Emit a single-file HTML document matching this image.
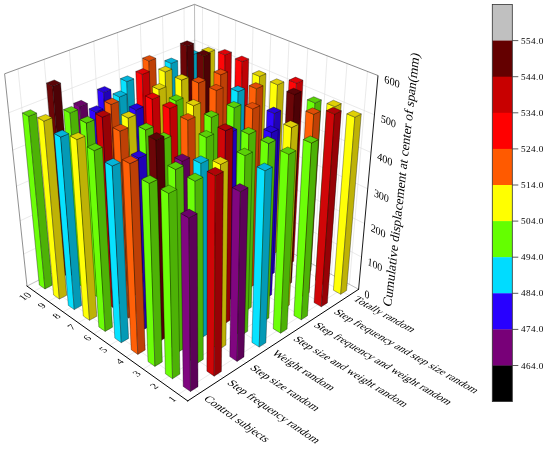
<!DOCTYPE html>
<html><head><meta charset="utf-8"><title>3D bar chart</title>
<style>html,body{margin:0;padding:0;background:#fff}svg{display:block}text{font-family:"Liberation Serif",serif;fill:#000}</style></head>
<body><svg width="550" height="453" viewBox="0 0 550 453">
<rect width="550" height="453" fill="#fff"/>
<line x1="38.7" y1="280.1" x2="18.0" y2="68.9" stroke="#DCDCDC" stroke-width="0.6" />
<line x1="199.8" y1="393.0" x2="38.7" y2="280.1" stroke="#DCDCDC" stroke-width="0.6" />
<line x1="61.7" y1="268.4" x2="44.1" y2="59.3" stroke="#DCDCDC" stroke-width="0.6" />
<line x1="223.4" y1="377.6" x2="61.7" y2="268.4" stroke="#DCDCDC" stroke-width="0.6" />
<line x1="84.0" y1="257.1" x2="69.4" y2="50.1" stroke="#DCDCDC" stroke-width="0.6" />
<line x1="246.1" y1="362.7" x2="84.0" y2="257.1" stroke="#DCDCDC" stroke-width="0.6" />
<line x1="105.6" y1="246.1" x2="93.8" y2="41.2" stroke="#DCDCDC" stroke-width="0.6" />
<line x1="268.1" y1="348.4" x2="105.6" y2="246.1" stroke="#DCDCDC" stroke-width="0.6" />
<line x1="126.6" y1="235.4" x2="117.4" y2="32.5" stroke="#DCDCDC" stroke-width="0.6" />
<line x1="289.4" y1="334.5" x2="126.6" y2="235.4" stroke="#DCDCDC" stroke-width="0.6" />
<line x1="147.0" y1="225.0" x2="140.3" y2="24.2" stroke="#DCDCDC" stroke-width="0.6" />
<line x1="309.9" y1="321.0" x2="147.0" y2="225.0" stroke="#DCDCDC" stroke-width="0.6" />
<line x1="166.8" y1="214.8" x2="162.5" y2="16.1" stroke="#DCDCDC" stroke-width="0.6" />
<line x1="329.9" y1="308.0" x2="166.8" y2="214.8" stroke="#DCDCDC" stroke-width="0.6" />
<line x1="186.1" y1="205.0" x2="184.0" y2="8.2" stroke="#DCDCDC" stroke-width="0.6" />
<line x1="349.1" y1="295.4" x2="186.1" y2="205.0" stroke="#DCDCDC" stroke-width="0.6" />
<line x1="349.4" y1="284.3" x2="367.5" y2="71.5" stroke="#DCDCDC" stroke-width="0.6" />
<line x1="178.5" y1="394.3" x2="349.4" y2="284.3" stroke="#DCDCDC" stroke-width="0.6" />
<line x1="331.4" y1="274.4" x2="347.0" y2="63.5" stroke="#DCDCDC" stroke-width="0.6" />
<line x1="160.6" y1="381.5" x2="331.4" y2="274.4" stroke="#DCDCDC" stroke-width="0.6" />
<line x1="313.9" y1="264.9" x2="327.1" y2="55.8" stroke="#DCDCDC" stroke-width="0.6" />
<line x1="143.1" y1="369.1" x2="313.9" y2="264.9" stroke="#DCDCDC" stroke-width="0.6" />
<line x1="296.8" y1="255.5" x2="307.8" y2="48.3" stroke="#DCDCDC" stroke-width="0.6" />
<line x1="126.2" y1="357.0" x2="296.8" y2="255.5" stroke="#DCDCDC" stroke-width="0.6" />
<line x1="280.2" y1="246.4" x2="289.0" y2="41.1" stroke="#DCDCDC" stroke-width="0.6" />
<line x1="109.7" y1="345.2" x2="280.2" y2="246.4" stroke="#DCDCDC" stroke-width="0.6" />
<line x1="263.9" y1="237.6" x2="270.8" y2="34.0" stroke="#DCDCDC" stroke-width="0.6" />
<line x1="93.7" y1="333.8" x2="263.9" y2="237.6" stroke="#DCDCDC" stroke-width="0.6" />
<line x1="248.1" y1="228.9" x2="253.0" y2="27.1" stroke="#DCDCDC" stroke-width="0.6" />
<line x1="78.2" y1="322.7" x2="248.1" y2="228.9" stroke="#DCDCDC" stroke-width="0.6" />
<line x1="232.6" y1="220.5" x2="235.7" y2="20.4" stroke="#DCDCDC" stroke-width="0.6" />
<line x1="63.0" y1="311.9" x2="232.6" y2="220.5" stroke="#DCDCDC" stroke-width="0.6" />
<line x1="217.5" y1="212.2" x2="218.9" y2="13.9" stroke="#DCDCDC" stroke-width="0.6" />
<line x1="48.3" y1="301.4" x2="217.5" y2="212.2" stroke="#DCDCDC" stroke-width="0.6" />
<line x1="202.8" y1="204.2" x2="202.5" y2="7.5" stroke="#DCDCDC" stroke-width="0.6" />
<line x1="34.0" y1="291.1" x2="202.8" y2="204.2" stroke="#DCDCDC" stroke-width="0.6" />
<line x1="23.6" y1="254.1" x2="195.4" y2="170.3" stroke="#DCDCDC" stroke-width="0.6" />
<line x1="195.4" y1="170.3" x2="361.5" y2="257.0" stroke="#DCDCDC" stroke-width="0.6" />
<line x1="20.1" y1="220.8" x2="195.2" y2="139.4" stroke="#DCDCDC" stroke-width="0.6" />
<line x1="195.2" y1="139.4" x2="364.5" y2="223.6" stroke="#DCDCDC" stroke-width="0.6" />
<line x1="16.4" y1="186.2" x2="195.1" y2="107.4" stroke="#DCDCDC" stroke-width="0.6" />
<line x1="195.1" y1="107.4" x2="367.7" y2="188.8" stroke="#DCDCDC" stroke-width="0.6" />
<line x1="12.6" y1="150.2" x2="194.9" y2="74.3" stroke="#DCDCDC" stroke-width="0.6" />
<line x1="194.9" y1="74.3" x2="371.0" y2="152.5" stroke="#DCDCDC" stroke-width="0.6" />
<line x1="8.7" y1="112.8" x2="194.7" y2="40.0" stroke="#DCDCDC" stroke-width="0.6" />
<line x1="194.7" y1="40.0" x2="374.4" y2="114.8" stroke="#DCDCDC" stroke-width="0.6" />
<line x1="4.6" y1="73.8" x2="194.5" y2="4.4" stroke="#707070" stroke-width="0.8" />
<line x1="194.5" y1="4.4" x2="378.0" y2="75.5" stroke="#707070" stroke-width="0.8" />
<line x1="194.5" y1="4.4" x2="195.6" y2="200.2" stroke="#A0A0A0" stroke-width="0.7" />
<line x1="27.0" y1="286.1" x2="4.6" y2="73.8" stroke="#606060" stroke-width="0.7" />
<line x1="27.0" y1="286.1" x2="195.6" y2="200.2" stroke="#A0A0A0" stroke-width="0.7" />
<line x1="358.6" y1="289.3" x2="195.6" y2="200.2" stroke="#A0A0A0" stroke-width="0.7" />
<line x1="358.6" y1="289.3" x2="378.0" y2="75.5" stroke="#000" stroke-width="0.9" />
<polygon points="187.5,208.9 193.3,212.2 192.2,54.9 185.9,52.2" fill="#08E2FF" stroke="#000" stroke-opacity="0.6" stroke-width="0.55" stroke-linejoin="round"/>
<polygon points="193.3,212.2 199.2,209.1 198.7,52.3 192.2,54.9" fill="#049AB6" stroke="#000" stroke-opacity="0.6" stroke-width="0.55" stroke-linejoin="round"/>
<polygon points="192.2,54.9 198.7,52.3 192.3,49.7 185.9,52.2" fill="#04B4D9" stroke="#000" stroke-opacity="0.6" stroke-width="0.55" stroke-linejoin="round"/>
<polygon points="168.1,218.9 173.9,222.2 171.1,63.4 164.8,60.6" fill="#08E2FF" stroke="#000" stroke-opacity="0.6" stroke-width="0.55" stroke-linejoin="round"/>
<polygon points="173.9,222.2 180.0,219.1 177.7,60.8 171.1,63.4" fill="#049AB6" stroke="#000" stroke-opacity="0.6" stroke-width="0.55" stroke-linejoin="round"/>
<polygon points="171.1,63.4 177.7,60.8 171.4,58.0 164.8,60.6" fill="#04B4D9" stroke="#000" stroke-opacity="0.6" stroke-width="0.55" stroke-linejoin="round"/>
<polygon points="148.2,229.1 154.0,232.5 148.9,61.0 142.6,58.1" fill="#FF6008" stroke="#000" stroke-opacity="0.6" stroke-width="0.55" stroke-linejoin="round"/>
<polygon points="154.0,232.5 160.2,229.3 155.8,58.3 148.9,61.0" fill="#BE4006" stroke="#000" stroke-opacity="0.6" stroke-width="0.55" stroke-linejoin="round"/>
<polygon points="148.9,61.0 155.8,58.3 149.5,55.4 142.6,58.1" fill="#DF4C08" stroke="#000" stroke-opacity="0.6" stroke-width="0.55" stroke-linejoin="round"/>
<polygon points="127.7,239.6 133.5,243.2 126.8,81.6 120.5,78.6" fill="#08E2FF" stroke="#000" stroke-opacity="0.6" stroke-width="0.55" stroke-linejoin="round"/>
<polygon points="133.5,243.2 139.9,239.8 133.8,78.8 126.8,81.6" fill="#049AB6" stroke="#000" stroke-opacity="0.6" stroke-width="0.55" stroke-linejoin="round"/>
<polygon points="126.8,81.6 133.8,78.8 127.5,75.8 120.5,78.6" fill="#04B4D9" stroke="#000" stroke-opacity="0.6" stroke-width="0.55" stroke-linejoin="round"/>
<polygon points="106.6,250.5 112.3,254.1 103.6,92.4 97.4,89.3" fill="#3006FF" stroke="#000" stroke-opacity="0.6" stroke-width="0.55" stroke-linejoin="round"/>
<polygon points="112.3,254.1 119.0,250.7 110.9,89.5 103.6,92.4" fill="#2102B6" stroke="#000" stroke-opacity="0.6" stroke-width="0.55" stroke-linejoin="round"/>
<polygon points="103.6,92.4 110.9,89.5 104.6,86.4 97.4,89.3" fill="#2604D9" stroke="#000" stroke-opacity="0.6" stroke-width="0.55" stroke-linejoin="round"/>
<polygon points="84.8,261.6 90.6,265.4 79.9,106.5 73.7,103.3" fill="#800680" stroke="#000" stroke-opacity="0.6" stroke-width="0.55" stroke-linejoin="round"/>
<polygon points="90.6,265.4 97.4,261.8 87.4,103.5 79.9,106.5" fill="#5C0259" stroke="#000" stroke-opacity="0.6" stroke-width="0.55" stroke-linejoin="round"/>
<polygon points="79.9,106.5 87.4,103.5 81.2,100.3 73.7,103.3" fill="#6B046A" stroke="#000" stroke-opacity="0.6" stroke-width="0.55" stroke-linejoin="round"/>
<polygon points="62.4,273.1 68.1,277.0 52.7,86.2 46.5,83.0" fill="#6C0608" stroke="#000" stroke-opacity="0.6" stroke-width="0.55" stroke-linejoin="round"/>
<polygon points="68.1,277.0 75.1,273.3 60.6,83.1 52.7,86.2" fill="#4D0206" stroke="#000" stroke-opacity="0.6" stroke-width="0.55" stroke-linejoin="round"/>
<polygon points="52.7,86.2 60.6,83.1 54.3,79.9 46.5,83.0" fill="#5A0408" stroke="#000" stroke-opacity="0.6" stroke-width="0.55" stroke-linejoin="round"/>
<polygon points="39.3,285.0 45.0,289.0 28.6,116.3 22.4,112.9" fill="#6CFF08" stroke="#000" stroke-opacity="0.6" stroke-width="0.55" stroke-linejoin="round"/>
<polygon points="45.0,289.0 52.2,285.2 36.6,113.1 28.6,116.3" fill="#4DB206" stroke="#000" stroke-opacity="0.6" stroke-width="0.55" stroke-linejoin="round"/>
<polygon points="28.6,116.3 36.6,113.1 30.5,109.7 22.4,112.9" fill="#5AD008" stroke="#000" stroke-opacity="0.6" stroke-width="0.55" stroke-linejoin="round"/>
<polygon points="202.2,217.1 208.1,220.4 208.4,52.6 201.8,49.8" fill="#FFFF08" stroke="#000" stroke-opacity="0.6" stroke-width="0.55" stroke-linejoin="round"/>
<polygon points="208.1,220.4 214.0,217.3 214.8,49.9 208.4,52.6" fill="#BEB206" stroke="#000" stroke-opacity="0.6" stroke-width="0.55" stroke-linejoin="round"/>
<polygon points="208.4,52.6 214.8,49.9 208.3,47.2 201.8,49.8" fill="#DFD008" stroke="#000" stroke-opacity="0.6" stroke-width="0.55" stroke-linejoin="round"/>
<polygon points="182.8,227.3 188.7,230.7 186.9,46.2 180.4,43.4" fill="#6C0608" stroke="#000" stroke-opacity="0.6" stroke-width="0.55" stroke-linejoin="round"/>
<polygon points="188.7,230.7 194.8,227.5 193.7,43.5 186.9,46.2" fill="#4D0206" stroke="#000" stroke-opacity="0.6" stroke-width="0.55" stroke-linejoin="round"/>
<polygon points="186.9,46.2 193.7,43.5 187.1,40.8 180.4,43.4" fill="#5A0408" stroke="#000" stroke-opacity="0.6" stroke-width="0.55" stroke-linejoin="round"/>
<polygon points="162.8,237.7 168.7,241.3 165.2,71.9 158.7,69.0" fill="#FFFF08" stroke="#000" stroke-opacity="0.6" stroke-width="0.55" stroke-linejoin="round"/>
<polygon points="168.7,241.3 175.0,238.0 172.0,69.1 165.2,71.9" fill="#BEB206" stroke="#000" stroke-opacity="0.6" stroke-width="0.55" stroke-linejoin="round"/>
<polygon points="165.2,71.9 172.0,69.1 165.5,66.2 158.7,69.0" fill="#DFD008" stroke="#000" stroke-opacity="0.6" stroke-width="0.55" stroke-linejoin="round"/>
<polygon points="142.2,248.5 148.2,252.2 142.3,74.4 135.8,71.4" fill="#FF0608" stroke="#000" stroke-opacity="0.6" stroke-width="0.55" stroke-linejoin="round"/>
<polygon points="148.2,252.2 154.6,248.7 149.4,71.5 142.3,74.4" fill="#BE0206" stroke="#000" stroke-opacity="0.6" stroke-width="0.55" stroke-linejoin="round"/>
<polygon points="142.3,74.4 149.4,71.5 142.9,68.6 135.8,71.4" fill="#DF0408" stroke="#000" stroke-opacity="0.6" stroke-width="0.55" stroke-linejoin="round"/>
<polygon points="121.1,259.6 127.0,263.4 119.4,97.0 112.9,93.8" fill="#08E2FF" stroke="#000" stroke-opacity="0.6" stroke-width="0.55" stroke-linejoin="round"/>
<polygon points="127.0,263.4 133.6,259.9 126.7,94.0 119.4,97.0" fill="#049AB6" stroke="#000" stroke-opacity="0.6" stroke-width="0.55" stroke-linejoin="round"/>
<polygon points="119.4,97.0 126.7,94.0 120.2,90.8 112.9,93.8" fill="#04B4D9" stroke="#000" stroke-opacity="0.6" stroke-width="0.55" stroke-linejoin="round"/>
<polygon points="99.3,271.1 105.1,274.9 95.6,112.1 89.2,108.8" fill="#3006FF" stroke="#000" stroke-opacity="0.6" stroke-width="0.55" stroke-linejoin="round"/>
<polygon points="105.1,274.9 112.0,271.3 103.1,109.0 95.6,112.1" fill="#2102B6" stroke="#000" stroke-opacity="0.6" stroke-width="0.55" stroke-linejoin="round"/>
<polygon points="95.6,112.1 103.1,109.0 96.7,105.7 89.2,108.8" fill="#2604D9" stroke="#000" stroke-opacity="0.6" stroke-width="0.55" stroke-linejoin="round"/>
<polygon points="76.8,282.9 82.6,286.8 70.0,112.9 63.6,109.5" fill="#6CFF08" stroke="#000" stroke-opacity="0.6" stroke-width="0.55" stroke-linejoin="round"/>
<polygon points="82.6,286.8 89.7,283.1 77.8,109.7 70.0,112.9" fill="#4DB206" stroke="#000" stroke-opacity="0.6" stroke-width="0.55" stroke-linejoin="round"/>
<polygon points="70.0,112.9 77.8,109.7 71.5,106.4 63.6,109.5" fill="#5AD008" stroke="#000" stroke-opacity="0.6" stroke-width="0.55" stroke-linejoin="round"/>
<polygon points="53.6,295.0 59.4,299.1 43.9,121.1 37.6,117.6" fill="#FFFF08" stroke="#000" stroke-opacity="0.6" stroke-width="0.55" stroke-linejoin="round"/>
<polygon points="59.4,299.1 66.7,295.3 52.1,117.8 43.9,121.1" fill="#BEB206" stroke="#000" stroke-opacity="0.6" stroke-width="0.55" stroke-linejoin="round"/>
<polygon points="43.9,121.1 52.1,117.8 45.7,114.4 37.6,117.6" fill="#DFD008" stroke="#000" stroke-opacity="0.6" stroke-width="0.55" stroke-linejoin="round"/>
<polygon points="217.2,225.5 223.3,228.9 225.0,54.8 218.3,52.0" fill="#FF0608" stroke="#000" stroke-opacity="0.6" stroke-width="0.55" stroke-linejoin="round"/>
<polygon points="223.3,228.9 229.2,225.7 231.5,52.2 225.0,54.8" fill="#BE0206" stroke="#000" stroke-opacity="0.6" stroke-width="0.55" stroke-linejoin="round"/>
<polygon points="225.0,54.8 231.5,52.2 224.8,49.4 218.3,52.0" fill="#DF0408" stroke="#000" stroke-opacity="0.6" stroke-width="0.55" stroke-linejoin="round"/>
<polygon points="197.7,235.9 203.8,239.4 203.7,55.9 196.9,53.0" fill="#6C0608" stroke="#000" stroke-opacity="0.6" stroke-width="0.55" stroke-linejoin="round"/>
<polygon points="203.8,239.4 209.9,236.1 210.4,53.1 203.7,55.9" fill="#4D0206" stroke="#000" stroke-opacity="0.6" stroke-width="0.55" stroke-linejoin="round"/>
<polygon points="203.7,55.9 210.4,53.1 203.7,50.3 196.9,53.0" fill="#5A0408" stroke="#000" stroke-opacity="0.6" stroke-width="0.55" stroke-linejoin="round"/>
<polygon points="177.8,246.6 183.8,250.2 181.7,80.1 175.0,77.1" fill="#FFFF08" stroke="#000" stroke-opacity="0.6" stroke-width="0.55" stroke-linejoin="round"/>
<polygon points="183.8,250.2 190.1,246.8 188.6,77.3 181.7,80.1" fill="#BEB206" stroke="#000" stroke-opacity="0.6" stroke-width="0.55" stroke-linejoin="round"/>
<polygon points="181.7,80.1 188.6,77.3 181.9,74.3 175.0,77.1" fill="#DFD008" stroke="#000" stroke-opacity="0.6" stroke-width="0.55" stroke-linejoin="round"/>
<polygon points="157.2,257.7 163.2,261.4 159.0,89.6 152.4,86.5" fill="#FFFF08" stroke="#000" stroke-opacity="0.6" stroke-width="0.55" stroke-linejoin="round"/>
<polygon points="163.2,261.4 169.7,257.9 166.1,86.6 159.0,89.6" fill="#BEB206" stroke="#000" stroke-opacity="0.6" stroke-width="0.55" stroke-linejoin="round"/>
<polygon points="159.0,89.6 166.1,86.6 159.5,83.5 152.4,86.5" fill="#DFD008" stroke="#000" stroke-opacity="0.6" stroke-width="0.55" stroke-linejoin="round"/>
<polygon points="136.0,269.0 142.0,272.9 136.0,109.9 129.4,106.7" fill="#3006FF" stroke="#000" stroke-opacity="0.6" stroke-width="0.55" stroke-linejoin="round"/>
<polygon points="142.0,272.9 148.7,269.3 143.3,106.8 136.0,109.9" fill="#2102B6" stroke="#000" stroke-opacity="0.6" stroke-width="0.55" stroke-linejoin="round"/>
<polygon points="136.0,109.9 143.3,106.8 136.7,103.6 129.4,106.7" fill="#2604D9" stroke="#000" stroke-opacity="0.6" stroke-width="0.55" stroke-linejoin="round"/>
<polygon points="114.1,280.8 120.1,284.7 111.0,104.5 104.4,101.2" fill="#FF6008" stroke="#000" stroke-opacity="0.6" stroke-width="0.55" stroke-linejoin="round"/>
<polygon points="120.1,284.7 127.0,281.0 118.7,101.4 111.0,104.5" fill="#BE4006" stroke="#000" stroke-opacity="0.6" stroke-width="0.55" stroke-linejoin="round"/>
<polygon points="111.0,104.5 118.7,101.4 112.0,98.1 104.4,101.2" fill="#DF4C08" stroke="#000" stroke-opacity="0.6" stroke-width="0.55" stroke-linejoin="round"/>
<polygon points="91.5,292.9 97.5,297.0 86.4,123.1 79.8,119.6" fill="#6CFF08" stroke="#000" stroke-opacity="0.6" stroke-width="0.55" stroke-linejoin="round"/>
<polygon points="97.5,297.0 104.6,293.1 94.3,119.8 86.4,123.1" fill="#4DB206" stroke="#000" stroke-opacity="0.6" stroke-width="0.55" stroke-linejoin="round"/>
<polygon points="86.4,123.1 94.3,119.8 87.7,116.3 79.8,119.6" fill="#5AD008" stroke="#000" stroke-opacity="0.6" stroke-width="0.55" stroke-linejoin="round"/>
<polygon points="68.3,305.4 74.3,309.6 60.7,137.1 54.2,133.5" fill="#08E2FF" stroke="#000" stroke-opacity="0.6" stroke-width="0.55" stroke-linejoin="round"/>
<polygon points="74.3,309.6 81.6,305.6 68.8,133.7 60.7,137.1" fill="#049AB6" stroke="#000" stroke-opacity="0.6" stroke-width="0.55" stroke-linejoin="round"/>
<polygon points="60.7,137.1 68.8,133.7 62.3,130.1 54.2,133.5" fill="#04B4D9" stroke="#000" stroke-opacity="0.6" stroke-width="0.55" stroke-linejoin="round"/>
<polygon points="232.5,234.0 238.8,237.5 242.2,61.6 235.3,58.8" fill="#FF0608" stroke="#000" stroke-opacity="0.6" stroke-width="0.55" stroke-linejoin="round"/>
<polygon points="238.8,237.5 244.7,234.2 248.7,58.9 242.2,61.6" fill="#BE0206" stroke="#000" stroke-opacity="0.6" stroke-width="0.55" stroke-linejoin="round"/>
<polygon points="242.2,61.6 248.7,58.9 241.8,56.0 235.3,58.8" fill="#DF0408" stroke="#000" stroke-opacity="0.6" stroke-width="0.55" stroke-linejoin="round"/>
<polygon points="213.1,244.7 219.4,248.3 220.8,74.8 213.9,71.8" fill="#FF6008" stroke="#000" stroke-opacity="0.6" stroke-width="0.55" stroke-linejoin="round"/>
<polygon points="219.4,248.3 225.4,244.9 227.5,71.9 220.8,74.8" fill="#BE4006" stroke="#000" stroke-opacity="0.6" stroke-width="0.55" stroke-linejoin="round"/>
<polygon points="220.8,74.8 227.5,71.9 220.6,68.9 213.9,71.8" fill="#DF4C08" stroke="#000" stroke-opacity="0.6" stroke-width="0.55" stroke-linejoin="round"/>
<polygon points="193.1,255.7 199.3,259.4 198.7,83.0 191.8,79.9" fill="#FF6008" stroke="#000" stroke-opacity="0.6" stroke-width="0.55" stroke-linejoin="round"/>
<polygon points="199.3,259.4 205.6,255.9 205.6,80.1 198.7,83.0" fill="#BE4006" stroke="#000" stroke-opacity="0.6" stroke-width="0.55" stroke-linejoin="round"/>
<polygon points="198.7,83.0 205.6,80.1 198.7,77.0 191.8,79.9" fill="#DF4C08" stroke="#000" stroke-opacity="0.6" stroke-width="0.55" stroke-linejoin="round"/>
<polygon points="172.5,267.0 178.7,270.8 176.0,101.0 169.2,97.8" fill="#6CFF08" stroke="#000" stroke-opacity="0.6" stroke-width="0.55" stroke-linejoin="round"/>
<polygon points="178.7,270.8 185.2,267.3 183.2,97.9 176.0,101.0" fill="#4DB206" stroke="#000" stroke-opacity="0.6" stroke-width="0.55" stroke-linejoin="round"/>
<polygon points="176.0,101.0 183.2,97.9 176.3,94.7 169.2,97.8" fill="#5AD008" stroke="#000" stroke-opacity="0.6" stroke-width="0.55" stroke-linejoin="round"/>
<polygon points="151.2,278.7 157.4,282.6 152.2,99.2 145.4,95.9" fill="#FF0608" stroke="#000" stroke-opacity="0.6" stroke-width="0.55" stroke-linejoin="round"/>
<polygon points="157.4,282.6 164.1,279.0 159.7,96.1 152.2,99.2" fill="#BE0206" stroke="#000" stroke-opacity="0.6" stroke-width="0.55" stroke-linejoin="round"/>
<polygon points="152.2,99.2 159.7,96.1 152.8,92.8 145.4,95.9" fill="#DF0408" stroke="#000" stroke-opacity="0.6" stroke-width="0.55" stroke-linejoin="round"/>
<polygon points="129.3,290.8 135.5,294.8 128.2,118.1 121.4,114.6" fill="#FFFF08" stroke="#000" stroke-opacity="0.6" stroke-width="0.55" stroke-linejoin="round"/>
<polygon points="135.5,294.8 142.4,291.0 135.8,114.8 128.2,118.1" fill="#BEB206" stroke="#000" stroke-opacity="0.6" stroke-width="0.55" stroke-linejoin="round"/>
<polygon points="128.2,118.1 135.8,114.8 129.0,111.4 121.4,114.6" fill="#DFD008" stroke="#000" stroke-opacity="0.6" stroke-width="0.55" stroke-linejoin="round"/>
<polygon points="106.7,303.2 112.9,307.4 102.3,117.2 95.5,113.7" fill="#D00608" stroke="#000" stroke-opacity="0.6" stroke-width="0.55" stroke-linejoin="round"/>
<polygon points="112.9,307.4 120.0,303.4 110.3,113.9 102.3,117.2" fill="#960206" stroke="#000" stroke-opacity="0.6" stroke-width="0.55" stroke-linejoin="round"/>
<polygon points="102.3,117.2 110.3,113.9 103.5,110.4 95.5,113.7" fill="#B00408" stroke="#000" stroke-opacity="0.6" stroke-width="0.55" stroke-linejoin="round"/>
<polygon points="83.3,316.0 89.5,320.3 76.9,139.6 70.1,135.9" fill="#FFFF08" stroke="#000" stroke-opacity="0.6" stroke-width="0.55" stroke-linejoin="round"/>
<polygon points="89.5,320.3 96.8,316.3 85.0,136.1 76.9,139.6" fill="#BEB206" stroke="#000" stroke-opacity="0.6" stroke-width="0.55" stroke-linejoin="round"/>
<polygon points="76.9,139.6 85.0,136.1 78.3,132.5 70.1,135.9" fill="#DFD008" stroke="#000" stroke-opacity="0.6" stroke-width="0.55" stroke-linejoin="round"/>
<polygon points="248.3,242.8 254.7,246.4 259.6,76.4 252.5,73.4" fill="#FFFF08" stroke="#000" stroke-opacity="0.6" stroke-width="0.55" stroke-linejoin="round"/>
<polygon points="254.7,246.4 260.6,243.0 266.0,73.6 259.6,76.4" fill="#BEB206" stroke="#000" stroke-opacity="0.6" stroke-width="0.55" stroke-linejoin="round"/>
<polygon points="259.6,76.4 266.0,73.6 259.0,70.6 252.5,73.4" fill="#DFD008" stroke="#000" stroke-opacity="0.6" stroke-width="0.55" stroke-linejoin="round"/>
<polygon points="228.9,253.8 235.3,257.4 238.1,91.7 231.1,88.6" fill="#08E2FF" stroke="#000" stroke-opacity="0.6" stroke-width="0.55" stroke-linejoin="round"/>
<polygon points="235.3,257.4 241.4,254.0 244.8,88.8 238.1,91.7" fill="#049AB6" stroke="#000" stroke-opacity="0.6" stroke-width="0.55" stroke-linejoin="round"/>
<polygon points="238.1,91.7 244.8,88.8 237.8,85.7 231.1,88.6" fill="#04B4D9" stroke="#000" stroke-opacity="0.6" stroke-width="0.55" stroke-linejoin="round"/>
<polygon points="208.8,265.0 215.2,268.8 216.3,90.5 209.2,87.3" fill="#FF6008" stroke="#000" stroke-opacity="0.6" stroke-width="0.55" stroke-linejoin="round"/>
<polygon points="215.2,268.8 221.5,265.3 223.2,87.5 216.3,90.5" fill="#BE4006" stroke="#000" stroke-opacity="0.6" stroke-width="0.55" stroke-linejoin="round"/>
<polygon points="216.3,90.5 223.2,87.5 216.1,84.3 209.2,87.3" fill="#DF4C08" stroke="#000" stroke-opacity="0.6" stroke-width="0.55" stroke-linejoin="round"/>
<polygon points="188.2,276.6 194.6,280.6 193.5,105.8 186.4,102.5" fill="#FFFF08" stroke="#000" stroke-opacity="0.6" stroke-width="0.55" stroke-linejoin="round"/>
<polygon points="194.6,280.6 201.0,276.9 200.6,102.7 193.5,105.8" fill="#BEB206" stroke="#000" stroke-opacity="0.6" stroke-width="0.55" stroke-linejoin="round"/>
<polygon points="193.5,105.8 200.6,102.7 193.5,99.4 186.4,102.5" fill="#DFD008" stroke="#000" stroke-opacity="0.6" stroke-width="0.55" stroke-linejoin="round"/>
<polygon points="166.9,288.6 173.3,292.7 169.8,108.4 162.7,105.0" fill="#FF0608" stroke="#000" stroke-opacity="0.6" stroke-width="0.55" stroke-linejoin="round"/>
<polygon points="173.3,292.7 179.9,288.9 177.2,105.2 169.8,108.4" fill="#BE0206" stroke="#000" stroke-opacity="0.6" stroke-width="0.55" stroke-linejoin="round"/>
<polygon points="169.8,108.4 177.2,105.2 170.1,101.8 162.7,105.0" fill="#DF0408" stroke="#000" stroke-opacity="0.6" stroke-width="0.55" stroke-linejoin="round"/>
<polygon points="144.9,301.0 151.3,305.2 145.6,130.0 138.6,126.4" fill="#6CFF08" stroke="#000" stroke-opacity="0.6" stroke-width="0.55" stroke-linejoin="round"/>
<polygon points="151.3,305.2 158.2,301.2 153.3,126.6 145.6,130.0" fill="#4DB206" stroke="#000" stroke-opacity="0.6" stroke-width="0.55" stroke-linejoin="round"/>
<polygon points="145.6,130.0 153.3,126.6 146.3,123.1 138.6,126.4" fill="#5AD008" stroke="#000" stroke-opacity="0.6" stroke-width="0.55" stroke-linejoin="round"/>
<polygon points="122.3,313.7 128.6,318.1 120.0,131.2 112.9,127.6" fill="#FF6008" stroke="#000" stroke-opacity="0.6" stroke-width="0.55" stroke-linejoin="round"/>
<polygon points="128.6,318.1 135.7,314.0 127.9,127.8 120.0,131.2" fill="#BE4006" stroke="#000" stroke-opacity="0.6" stroke-width="0.55" stroke-linejoin="round"/>
<polygon points="120.0,131.2 127.9,127.8 120.9,124.2 112.9,127.6" fill="#DF4C08" stroke="#000" stroke-opacity="0.6" stroke-width="0.55" stroke-linejoin="round"/>
<polygon points="98.8,326.9 105.2,331.4 94.2,150.7 87.2,146.9" fill="#6CFF08" stroke="#000" stroke-opacity="0.6" stroke-width="0.55" stroke-linejoin="round"/>
<polygon points="105.2,331.4 112.5,327.2 102.4,147.1 94.2,150.7" fill="#4DB206" stroke="#000" stroke-opacity="0.6" stroke-width="0.55" stroke-linejoin="round"/>
<polygon points="94.2,150.7 102.4,147.1 95.4,143.3 87.2,146.9" fill="#5AD008" stroke="#000" stroke-opacity="0.6" stroke-width="0.55" stroke-linejoin="round"/>
<polygon points="264.5,251.8 271.0,255.5 277.5,84.8 270.3,81.7" fill="#FFFF08" stroke="#000" stroke-opacity="0.6" stroke-width="0.55" stroke-linejoin="round"/>
<polygon points="271.0,255.5 276.9,252.0 284.0,81.9 277.5,84.8" fill="#BEB206" stroke="#000" stroke-opacity="0.6" stroke-width="0.55" stroke-linejoin="round"/>
<polygon points="277.5,84.8 284.0,81.9 276.7,78.8 270.3,81.7" fill="#DFD008" stroke="#000" stroke-opacity="0.6" stroke-width="0.55" stroke-linejoin="round"/>
<polygon points="245.0,263.0 251.6,266.8 256.4,88.7 249.1,85.6" fill="#FF6008" stroke="#000" stroke-opacity="0.6" stroke-width="0.55" stroke-linejoin="round"/>
<polygon points="251.6,266.8 257.7,263.3 263.1,85.7 256.4,88.7" fill="#BE4006" stroke="#000" stroke-opacity="0.6" stroke-width="0.55" stroke-linejoin="round"/>
<polygon points="256.4,88.7 263.1,85.7 255.8,82.6 249.1,85.6" fill="#DF4C08" stroke="#000" stroke-opacity="0.6" stroke-width="0.55" stroke-linejoin="round"/>
<polygon points="225.0,274.6 231.5,278.5 234.2,107.8 226.9,104.5" fill="#6CFF08" stroke="#000" stroke-opacity="0.6" stroke-width="0.55" stroke-linejoin="round"/>
<polygon points="231.5,278.5 237.8,274.8 241.1,104.6 234.2,107.8" fill="#4DB206" stroke="#000" stroke-opacity="0.6" stroke-width="0.55" stroke-linejoin="round"/>
<polygon points="234.2,107.8 241.1,104.6 233.8,101.4 226.9,104.5" fill="#5AD008" stroke="#000" stroke-opacity="0.6" stroke-width="0.55" stroke-linejoin="round"/>
<polygon points="204.3,286.5 210.9,290.5 211.4,117.4 204.2,113.9" fill="#6CFF08" stroke="#000" stroke-opacity="0.6" stroke-width="0.55" stroke-linejoin="round"/>
<polygon points="210.9,290.5 217.3,286.8 218.6,114.1 211.4,117.4" fill="#4DB206" stroke="#000" stroke-opacity="0.6" stroke-width="0.55" stroke-linejoin="round"/>
<polygon points="211.4,117.4 218.6,114.1 211.3,110.7 204.2,113.9" fill="#5AD008" stroke="#000" stroke-opacity="0.6" stroke-width="0.55" stroke-linejoin="round"/>
<polygon points="183.0,298.8 189.5,303.0 187.8,120.2 180.5,116.7" fill="#FF6008" stroke="#000" stroke-opacity="0.6" stroke-width="0.55" stroke-linejoin="round"/>
<polygon points="189.5,303.0 196.2,299.1 195.2,116.9 187.8,120.2" fill="#BE4006" stroke="#000" stroke-opacity="0.6" stroke-width="0.55" stroke-linejoin="round"/>
<polygon points="187.8,120.2 195.2,116.9 188.0,113.4 180.5,116.7" fill="#DF4C08" stroke="#000" stroke-opacity="0.6" stroke-width="0.55" stroke-linejoin="round"/>
<polygon points="161.0,311.5 167.5,315.8 163.5,139.5 156.3,135.8" fill="#6CFF08" stroke="#000" stroke-opacity="0.6" stroke-width="0.55" stroke-linejoin="round"/>
<polygon points="167.5,315.8 174.4,311.8 171.1,136.0 163.5,139.5" fill="#4DB206" stroke="#000" stroke-opacity="0.6" stroke-width="0.55" stroke-linejoin="round"/>
<polygon points="163.5,139.5 171.1,136.0 163.9,132.4 156.3,135.8" fill="#5AD008" stroke="#000" stroke-opacity="0.6" stroke-width="0.55" stroke-linejoin="round"/>
<polygon points="138.2,324.6 144.8,329.0 138.5,158.1 131.3,154.3" fill="#3006FF" stroke="#000" stroke-opacity="0.6" stroke-width="0.55" stroke-linejoin="round"/>
<polygon points="144.8,329.0 151.9,324.9 146.4,154.5 138.5,158.1" fill="#2102B6" stroke="#000" stroke-opacity="0.6" stroke-width="0.55" stroke-linejoin="round"/>
<polygon points="138.5,158.1 146.4,154.5 139.2,150.7 131.3,154.3" fill="#2604D9" stroke="#000" stroke-opacity="0.6" stroke-width="0.55" stroke-linejoin="round"/>
<polygon points="114.8,338.1 121.3,342.7 112.2,166.1 105.0,162.1" fill="#08E2FF" stroke="#000" stroke-opacity="0.6" stroke-width="0.55" stroke-linejoin="round"/>
<polygon points="121.3,342.7 128.6,338.4 120.4,162.4 112.2,166.1" fill="#049AB6" stroke="#000" stroke-opacity="0.6" stroke-width="0.55" stroke-linejoin="round"/>
<polygon points="112.2,166.1 120.4,162.4 113.2,158.4 105.0,162.1" fill="#04B4D9" stroke="#000" stroke-opacity="0.6" stroke-width="0.55" stroke-linejoin="round"/>
<polygon points="281.0,261.0 287.8,264.8 296.5,83.2 289.0,80.1" fill="#FF0608" stroke="#000" stroke-opacity="0.6" stroke-width="0.55" stroke-linejoin="round"/>
<polygon points="287.8,264.8 293.7,261.3 303.0,80.2 296.5,83.2" fill="#BE0206" stroke="#000" stroke-opacity="0.6" stroke-width="0.55" stroke-linejoin="round"/>
<polygon points="296.5,83.2 303.0,80.2 295.5,77.1 289.0,80.1" fill="#DF0408" stroke="#000" stroke-opacity="0.6" stroke-width="0.55" stroke-linejoin="round"/>
<polygon points="261.6,272.6 268.3,276.4 274.4,113.5 266.9,110.2" fill="#3006FF" stroke="#000" stroke-opacity="0.6" stroke-width="0.55" stroke-linejoin="round"/>
<polygon points="268.3,276.4 274.4,272.8 281.0,110.4 274.4,113.5" fill="#2102B6" stroke="#000" stroke-opacity="0.6" stroke-width="0.55" stroke-linejoin="round"/>
<polygon points="274.4,113.5 281.0,110.4 273.6,107.1 266.9,110.2" fill="#2604D9" stroke="#000" stroke-opacity="0.6" stroke-width="0.55" stroke-linejoin="round"/>
<polygon points="241.5,284.4 248.3,288.4 252.8,108.9 245.3,105.5" fill="#FF6008" stroke="#000" stroke-opacity="0.6" stroke-width="0.55" stroke-linejoin="round"/>
<polygon points="248.3,288.4 254.6,284.7 259.8,105.7 252.8,108.9" fill="#BE4006" stroke="#000" stroke-opacity="0.6" stroke-width="0.55" stroke-linejoin="round"/>
<polygon points="252.8,108.9 259.8,105.7 252.3,102.4 245.3,105.5" fill="#DF4C08" stroke="#000" stroke-opacity="0.6" stroke-width="0.55" stroke-linejoin="round"/>
<polygon points="220.8,296.6 227.6,300.8 229.8,132.7 222.4,129.1" fill="#3006FF" stroke="#000" stroke-opacity="0.6" stroke-width="0.55" stroke-linejoin="round"/>
<polygon points="227.6,300.8 234.1,296.9 236.9,129.3 229.8,132.7" fill="#2102B6" stroke="#000" stroke-opacity="0.6" stroke-width="0.55" stroke-linejoin="round"/>
<polygon points="229.8,132.7 236.9,129.3 229.5,125.8 222.4,129.1" fill="#2604D9" stroke="#000" stroke-opacity="0.6" stroke-width="0.55" stroke-linejoin="round"/>
<polygon points="199.5,309.3 206.2,313.5 206.3,137.5 198.9,133.8" fill="#6CFF08" stroke="#000" stroke-opacity="0.6" stroke-width="0.55" stroke-linejoin="round"/>
<polygon points="206.2,313.5 212.9,309.5 213.7,134.0 206.3,137.5" fill="#4DB206" stroke="#000" stroke-opacity="0.6" stroke-width="0.55" stroke-linejoin="round"/>
<polygon points="206.3,137.5 213.7,134.0 206.3,130.4 198.9,133.8" fill="#5AD008" stroke="#000" stroke-opacity="0.6" stroke-width="0.55" stroke-linejoin="round"/>
<polygon points="177.5,322.3 184.2,326.7 182.1,161.3 174.7,157.5" fill="#800680" stroke="#000" stroke-opacity="0.6" stroke-width="0.55" stroke-linejoin="round"/>
<polygon points="184.2,326.7 191.1,322.6 189.7,157.7 182.1,161.3" fill="#5C0259" stroke="#000" stroke-opacity="0.6" stroke-width="0.55" stroke-linejoin="round"/>
<polygon points="182.1,161.3 189.7,157.7 182.3,153.9 174.7,157.5" fill="#6B046A" stroke="#000" stroke-opacity="0.6" stroke-width="0.55" stroke-linejoin="round"/>
<polygon points="154.7,335.8 161.4,340.3 156.0,140.0 148.5,136.2" fill="#6C0608" stroke="#000" stroke-opacity="0.6" stroke-width="0.55" stroke-linejoin="round"/>
<polygon points="161.4,340.3 168.5,336.1 164.1,136.4 156.0,140.0" fill="#4D0206" stroke="#000" stroke-opacity="0.6" stroke-width="0.55" stroke-linejoin="round"/>
<polygon points="156.0,140.0 164.1,136.4 156.6,132.6 148.5,136.2" fill="#5A0408" stroke="#000" stroke-opacity="0.6" stroke-width="0.55" stroke-linejoin="round"/>
<polygon points="131.2,349.7 137.8,354.4 129.9,163.6 122.5,159.6" fill="#FF6008" stroke="#000" stroke-opacity="0.6" stroke-width="0.55" stroke-linejoin="round"/>
<polygon points="137.8,354.4 145.2,350.0 138.2,159.8 129.9,163.6" fill="#BE4006" stroke="#000" stroke-opacity="0.6" stroke-width="0.55" stroke-linejoin="round"/>
<polygon points="129.9,163.6 138.2,159.8 130.8,155.8 122.5,159.6" fill="#DF4C08" stroke="#000" stroke-opacity="0.6" stroke-width="0.55" stroke-linejoin="round"/>
<polygon points="298.0,270.5 304.9,274.4 315.0,103.0 307.3,99.7" fill="#6CFF08" stroke="#000" stroke-opacity="0.6" stroke-width="0.55" stroke-linejoin="round"/>
<polygon points="304.9,274.4 310.9,270.8 321.4,99.9 315.0,103.0" fill="#4DB206" stroke="#000" stroke-opacity="0.6" stroke-width="0.55" stroke-linejoin="round"/>
<polygon points="315.0,103.0 321.4,99.9 313.7,96.7 307.3,99.7" fill="#5AD008" stroke="#000" stroke-opacity="0.6" stroke-width="0.55" stroke-linejoin="round"/>
<polygon points="278.6,282.3 285.5,286.3 294.6,94.6 286.8,91.3" fill="#6C0608" stroke="#000" stroke-opacity="0.6" stroke-width="0.55" stroke-linejoin="round"/>
<polygon points="285.5,286.3 291.6,282.6 301.3,91.5 294.6,94.6" fill="#4D0206" stroke="#000" stroke-opacity="0.6" stroke-width="0.55" stroke-linejoin="round"/>
<polygon points="294.6,94.6 301.3,91.5 293.6,88.2 286.8,91.3" fill="#5A0408" stroke="#000" stroke-opacity="0.6" stroke-width="0.55" stroke-linejoin="round"/>
<polygon points="258.5,294.5 265.5,298.6 271.4,132.6 263.8,129.1" fill="#3006FF" stroke="#000" stroke-opacity="0.6" stroke-width="0.55" stroke-linejoin="round"/>
<polygon points="265.5,298.6 271.7,294.7 278.3,129.3 271.4,132.6" fill="#2102B6" stroke="#000" stroke-opacity="0.6" stroke-width="0.55" stroke-linejoin="round"/>
<polygon points="271.4,132.6 278.3,129.3 270.6,125.8 263.8,129.1" fill="#2604D9" stroke="#000" stroke-opacity="0.6" stroke-width="0.55" stroke-linejoin="round"/>
<polygon points="237.8,307.0 244.8,311.3 248.9,134.3 241.3,130.7" fill="#6CFF08" stroke="#000" stroke-opacity="0.6" stroke-width="0.55" stroke-linejoin="round"/>
<polygon points="244.8,311.3 251.3,307.3 256.1,130.9 248.9,134.3" fill="#4DB206" stroke="#000" stroke-opacity="0.6" stroke-width="0.55" stroke-linejoin="round"/>
<polygon points="248.9,134.3 256.1,130.9 248.4,127.3 241.3,130.7" fill="#5AD008" stroke="#000" stroke-opacity="0.6" stroke-width="0.55" stroke-linejoin="round"/>
<polygon points="216.5,320.0 223.4,324.4 225.5,130.8 217.8,127.1" fill="#D00608" stroke="#000" stroke-opacity="0.6" stroke-width="0.55" stroke-linejoin="round"/>
<polygon points="223.4,324.4 230.1,320.3 233.0,127.3 225.5,130.8" fill="#960206" stroke="#000" stroke-opacity="0.6" stroke-width="0.55" stroke-linejoin="round"/>
<polygon points="225.5,130.8 233.0,127.3 225.2,123.7 217.8,127.1" fill="#B00408" stroke="#000" stroke-opacity="0.6" stroke-width="0.55" stroke-linejoin="round"/>
<polygon points="194.4,333.4 201.3,337.9 200.9,163.4 193.2,159.5" fill="#08E2FF" stroke="#000" stroke-opacity="0.6" stroke-width="0.55" stroke-linejoin="round"/>
<polygon points="201.3,337.9 208.2,333.7 208.5,159.7 200.9,163.4" fill="#049AB6" stroke="#000" stroke-opacity="0.6" stroke-width="0.55" stroke-linejoin="round"/>
<polygon points="200.9,163.4 208.5,159.7 200.9,155.8 193.2,159.5" fill="#04B4D9" stroke="#000" stroke-opacity="0.6" stroke-width="0.55" stroke-linejoin="round"/>
<polygon points="171.6,347.3 178.5,351.9 175.5,169.6 167.8,165.5" fill="#6CFF08" stroke="#000" stroke-opacity="0.6" stroke-width="0.55" stroke-linejoin="round"/>
<polygon points="178.5,351.9 185.7,347.6 183.5,165.7 175.5,169.6" fill="#4DB206" stroke="#000" stroke-opacity="0.6" stroke-width="0.55" stroke-linejoin="round"/>
<polygon points="175.5,169.6 183.5,165.7 175.8,161.7 167.8,165.5" fill="#5AD008" stroke="#000" stroke-opacity="0.6" stroke-width="0.55" stroke-linejoin="round"/>
<polygon points="148.0,361.6 154.9,366.4 149.2,183.4 141.5,179.2" fill="#6CFF08" stroke="#000" stroke-opacity="0.6" stroke-width="0.55" stroke-linejoin="round"/>
<polygon points="154.9,366.4 162.3,361.9 157.4,179.5 149.2,183.4" fill="#4DB206" stroke="#000" stroke-opacity="0.6" stroke-width="0.55" stroke-linejoin="round"/>
<polygon points="149.2,183.4 157.4,179.5 149.8,175.3 141.5,179.2" fill="#5AD008" stroke="#000" stroke-opacity="0.6" stroke-width="0.55" stroke-linejoin="round"/>
<polygon points="315.5,280.2 322.6,284.2 334.9,106.7 326.9,103.4" fill="#FFFF08" stroke="#000" stroke-opacity="0.6" stroke-width="0.55" stroke-linejoin="round"/>
<polygon points="322.6,284.2 328.5,280.5 341.3,103.6 334.9,106.7" fill="#BEB206" stroke="#000" stroke-opacity="0.6" stroke-width="0.55" stroke-linejoin="round"/>
<polygon points="334.9,106.7 341.3,103.6 333.4,100.2 326.9,103.4" fill="#DFD008" stroke="#000" stroke-opacity="0.6" stroke-width="0.55" stroke-linejoin="round"/>
<polygon points="296.0,292.3 303.2,296.4 313.7,114.4 305.8,111.0" fill="#FF6008" stroke="#000" stroke-opacity="0.6" stroke-width="0.55" stroke-linejoin="round"/>
<polygon points="303.2,296.4 309.2,292.6 320.4,111.2 313.7,114.4" fill="#BE4006" stroke="#000" stroke-opacity="0.6" stroke-width="0.55" stroke-linejoin="round"/>
<polygon points="313.7,114.4 320.4,111.2 312.5,107.8 305.8,111.0" fill="#DF4C08" stroke="#000" stroke-opacity="0.6" stroke-width="0.55" stroke-linejoin="round"/>
<polygon points="276.0,304.8 283.1,309.1 291.6,127.6 283.6,124.0" fill="#FFFF08" stroke="#000" stroke-opacity="0.6" stroke-width="0.55" stroke-linejoin="round"/>
<polygon points="283.1,309.1 289.4,305.1 298.5,124.2 291.6,127.6" fill="#BEB206" stroke="#000" stroke-opacity="0.6" stroke-width="0.55" stroke-linejoin="round"/>
<polygon points="291.6,127.6 298.5,124.2 290.5,120.7 283.6,124.0" fill="#DFD008" stroke="#000" stroke-opacity="0.6" stroke-width="0.55" stroke-linejoin="round"/>
<polygon points="255.3,317.7 262.4,322.1 268.6,143.6 260.7,139.8" fill="#6CFF08" stroke="#000" stroke-opacity="0.6" stroke-width="0.55" stroke-linejoin="round"/>
<polygon points="262.4,322.1 268.9,318.0 275.7,140.0 268.6,143.6" fill="#4DB206" stroke="#000" stroke-opacity="0.6" stroke-width="0.55" stroke-linejoin="round"/>
<polygon points="268.6,143.6 275.7,140.0 267.8,136.3 260.7,139.8" fill="#5AD008" stroke="#000" stroke-opacity="0.6" stroke-width="0.55" stroke-linejoin="round"/>
<polygon points="233.9,331.1 241.0,335.6 245.0,155.7 237.0,151.8" fill="#6CFF08" stroke="#000" stroke-opacity="0.6" stroke-width="0.55" stroke-linejoin="round"/>
<polygon points="241.0,335.6 247.7,331.3 252.4,152.0 245.0,155.7" fill="#4DB206" stroke="#000" stroke-opacity="0.6" stroke-width="0.55" stroke-linejoin="round"/>
<polygon points="245.0,155.7 252.4,152.0 244.4,148.1 237.0,151.8" fill="#5AD008" stroke="#000" stroke-opacity="0.6" stroke-width="0.55" stroke-linejoin="round"/>
<polygon points="211.8,344.8 218.9,349.5 220.5,164.5 212.6,160.5" fill="#FFFF08" stroke="#000" stroke-opacity="0.6" stroke-width="0.55" stroke-linejoin="round"/>
<polygon points="218.9,349.5 225.9,345.1 228.2,160.7 220.5,164.5" fill="#BEB206" stroke="#000" stroke-opacity="0.6" stroke-width="0.55" stroke-linejoin="round"/>
<polygon points="220.5,164.5 228.2,160.7 220.3,156.8 212.6,160.5" fill="#DFD008" stroke="#000" stroke-opacity="0.6" stroke-width="0.55" stroke-linejoin="round"/>
<polygon points="189.0,359.1 196.1,363.9 195.0,181.2 187.2,177.0" fill="#6CFF08" stroke="#000" stroke-opacity="0.6" stroke-width="0.55" stroke-linejoin="round"/>
<polygon points="196.1,363.9 203.3,359.4 203.0,177.2 195.0,181.2" fill="#4DB206" stroke="#000" stroke-opacity="0.6" stroke-width="0.55" stroke-linejoin="round"/>
<polygon points="195.0,181.2 203.0,177.2 195.1,173.1 187.2,177.0" fill="#5AD008" stroke="#000" stroke-opacity="0.6" stroke-width="0.55" stroke-linejoin="round"/>
<polygon points="165.4,373.8 172.5,378.8 168.6,193.4 160.8,189.1" fill="#6CFF08" stroke="#000" stroke-opacity="0.6" stroke-width="0.55" stroke-linejoin="round"/>
<polygon points="172.5,378.8 179.9,374.1 176.9,189.3 168.6,193.4" fill="#4DB206" stroke="#000" stroke-opacity="0.6" stroke-width="0.55" stroke-linejoin="round"/>
<polygon points="168.6,193.4 176.9,189.3 169.0,185.0 160.8,189.1" fill="#5AD008" stroke="#000" stroke-opacity="0.6" stroke-width="0.55" stroke-linejoin="round"/>
<polygon points="333.4,290.2 340.7,294.3 354.9,117.2 346.8,113.8" fill="#FFFF08" stroke="#000" stroke-opacity="0.6" stroke-width="0.55" stroke-linejoin="round"/>
<polygon points="340.7,294.3 346.6,290.5 361.3,113.9 354.9,117.2" fill="#BEB206" stroke="#000" stroke-opacity="0.6" stroke-width="0.55" stroke-linejoin="round"/>
<polygon points="354.9,117.2 361.3,113.9 353.2,110.5 346.8,113.8" fill="#DFD008" stroke="#000" stroke-opacity="0.6" stroke-width="0.55" stroke-linejoin="round"/>
<polygon points="314.0,302.6 321.3,306.8 334.6,114.2 326.4,110.6" fill="#D00608" stroke="#000" stroke-opacity="0.6" stroke-width="0.55" stroke-linejoin="round"/>
<polygon points="321.3,306.8 327.4,302.9 341.3,110.8 334.6,114.2" fill="#960206" stroke="#000" stroke-opacity="0.6" stroke-width="0.55" stroke-linejoin="round"/>
<polygon points="334.6,114.2 341.3,110.8 333.1,107.3 326.4,110.6" fill="#B00408" stroke="#000" stroke-opacity="0.6" stroke-width="0.55" stroke-linejoin="round"/>
<polygon points="293.9,315.5 301.3,319.8 311.5,143.1 303.3,139.4" fill="#6CFF08" stroke="#000" stroke-opacity="0.6" stroke-width="0.55" stroke-linejoin="round"/>
<polygon points="301.3,319.8 307.5,315.7 318.4,139.6 311.5,143.1" fill="#4DB206" stroke="#000" stroke-opacity="0.6" stroke-width="0.55" stroke-linejoin="round"/>
<polygon points="311.5,143.1 318.4,139.6 310.2,135.9 303.3,139.4" fill="#5AD008" stroke="#000" stroke-opacity="0.6" stroke-width="0.55" stroke-linejoin="round"/>
<polygon points="273.2,328.7 280.6,333.2 288.7,154.3 280.6,150.5" fill="#6CFF08" stroke="#000" stroke-opacity="0.6" stroke-width="0.55" stroke-linejoin="round"/>
<polygon points="280.6,333.2 287.1,329.0 295.9,150.7 288.7,154.3" fill="#4DB206" stroke="#000" stroke-opacity="0.6" stroke-width="0.55" stroke-linejoin="round"/>
<polygon points="288.7,154.3 295.9,150.7 287.7,146.9 280.6,150.5" fill="#5AD008" stroke="#000" stroke-opacity="0.6" stroke-width="0.55" stroke-linejoin="round"/>
<polygon points="251.9,342.4 259.2,347.1 265.0,170.8 256.9,166.8" fill="#08E2FF" stroke="#000" stroke-opacity="0.6" stroke-width="0.55" stroke-linejoin="round"/>
<polygon points="259.2,347.1 265.9,342.7 272.4,167.0 265.0,170.8" fill="#049AB6" stroke="#000" stroke-opacity="0.6" stroke-width="0.55" stroke-linejoin="round"/>
<polygon points="265.0,170.8 272.4,167.0 264.3,163.0 256.9,166.8" fill="#04B4D9" stroke="#000" stroke-opacity="0.6" stroke-width="0.55" stroke-linejoin="round"/>
<polygon points="229.8,356.6 237.1,361.4 240.4,191.7 232.3,187.5" fill="#800680" stroke="#000" stroke-opacity="0.6" stroke-width="0.55" stroke-linejoin="round"/>
<polygon points="237.1,361.4 244.0,356.9 248.1,187.7 240.4,191.7" fill="#5C0259" stroke="#000" stroke-opacity="0.6" stroke-width="0.55" stroke-linejoin="round"/>
<polygon points="240.4,191.7 248.1,187.7 239.9,183.6 232.3,187.5" fill="#6B046A" stroke="#000" stroke-opacity="0.6" stroke-width="0.55" stroke-linejoin="round"/>
<polygon points="206.9,371.2 214.2,376.2 215.3,175.6 207.1,171.3" fill="#D00608" stroke="#000" stroke-opacity="0.6" stroke-width="0.55" stroke-linejoin="round"/>
<polygon points="214.2,376.2 221.4,371.5 223.4,171.6 215.3,175.6" fill="#960206" stroke="#000" stroke-opacity="0.6" stroke-width="0.55" stroke-linejoin="round"/>
<polygon points="215.3,175.6 223.4,171.6 215.2,167.3 207.1,171.3" fill="#B00408" stroke="#000" stroke-opacity="0.6" stroke-width="0.55" stroke-linejoin="round"/>
<polygon points="183.2,386.4 190.5,391.5 188.9,217.9 180.8,213.3" fill="#800680" stroke="#000" stroke-opacity="0.6" stroke-width="0.55" stroke-linejoin="round"/>
<polygon points="190.5,391.5 198.0,386.7 197.2,213.6 188.9,217.9" fill="#5C0259" stroke="#000" stroke-opacity="0.6" stroke-width="0.55" stroke-linejoin="round"/>
<polygon points="188.9,217.9 197.2,213.6 189.1,209.1 180.8,213.3" fill="#6B046A" stroke="#000" stroke-opacity="0.6" stroke-width="0.55" stroke-linejoin="round"/>
<line x1="187.7" y1="400.9" x2="27.0" y2="286.1" stroke="#000" stroke-width="1.0" stroke-linecap="square"/>
<line x1="187.7" y1="400.9" x2="358.6" y2="289.3" stroke="#000" stroke-width="1.0" stroke-linecap="square"/>
<text transform="matrix(0.8190,0.5738,-0.8372,0.5470,202.92,399.27)" font-size="11.6" text-anchor="start" >Control subjects</text>
<text transform="matrix(0.8287,0.5596,-0.8372,0.5470,226.50,383.59)" font-size="11.514285714285714" text-anchor="start" >Step frequency random</text>
<text transform="matrix(0.8378,0.5460,-0.8372,0.5470,249.26,368.44)" font-size="11.428571428571429" text-anchor="start" >Step size random</text>
<text transform="matrix(0.8462,0.5328,-0.8372,0.5470,271.25,353.80)" font-size="11.342857142857142" text-anchor="start" >Weight random</text>
<text transform="matrix(0.8541,0.5202,-0.8372,0.5470,292.51,339.65)" font-size="11.257142857142856" text-anchor="start" >Step size and weight random</text>
<text transform="matrix(0.8614,0.5080,-0.8372,0.5470,313.06,325.95)" font-size="11.17142857142857" text-anchor="start" >Step frequency and weight random</text>
<text transform="matrix(0.8682,0.4963,-0.8372,0.5470,332.96,312.69)" font-size="11.085714285714285" text-anchor="start" >Step frequency and step size random</text>
<text transform="matrix(0.8745,0.4850,-0.8372,0.5470,352.22,299.85)" font-size="11.0" text-anchor="start" >Totally random</text>
<text transform="matrix(0.8407,-0.5416,0.8138,0.5811,177.15,399.65)" font-size="10.3" text-anchor="end" >1</text>
<text transform="matrix(0.8473,-0.5311,0.8138,0.5811,159.15,386.77)" font-size="10.3" text-anchor="end" >2</text>
<text transform="matrix(0.8536,-0.5209,0.8138,0.5811,141.68,374.26)" font-size="10.3" text-anchor="end" >3</text>
<text transform="matrix(0.8596,-0.5110,0.8138,0.5811,124.71,362.11)" font-size="10.3" text-anchor="end" >4</text>
<text transform="matrix(0.8652,-0.5015,0.8138,0.5811,108.22,350.31)" font-size="10.3" text-anchor="end" >5</text>
<text transform="matrix(0.8705,-0.4922,0.8138,0.5811,92.20,338.84)" font-size="10.3" text-anchor="end" >6</text>
<text transform="matrix(0.8755,-0.4832,0.8138,0.5811,76.62,327.68)" font-size="10.3" text-anchor="end" >7</text>
<text transform="matrix(0.8802,-0.4746,0.8138,0.5811,61.46,316.83)" font-size="10.3" text-anchor="end" >8</text>
<text transform="matrix(0.8847,-0.4662,0.8138,0.5811,46.71,306.27)" font-size="10.3" text-anchor="end" >9</text>
<text transform="matrix(0.8890,-0.4580,0.8138,0.5811,32.35,295.99)" font-size="10.3" text-anchor="end" >10</text>
<text transform="matrix(0.8775,0.4795,-0.0904,0.9959,364.32,296.81)" font-size="11" text-anchor="start" >0</text>
<text transform="matrix(0.8864,0.4629,-0.0904,0.9959,367.31,264.47)" font-size="11" text-anchor="start" >100</text>
<text transform="matrix(0.8955,0.4452,-0.0904,0.9959,370.41,230.87)" font-size="11" text-anchor="start" >200</text>
<text transform="matrix(0.9046,0.4262,-0.0904,0.9959,373.63,195.93)" font-size="11" text-anchor="start" >300</text>
<text transform="matrix(0.9138,0.4061,-0.0904,0.9959,376.98,159.57)" font-size="11" text-anchor="start" >400</text>
<text transform="matrix(0.9231,0.3845,-0.0904,0.9959,380.47,121.70)" font-size="11" text-anchor="start" >500</text>
<text transform="matrix(0.9324,0.3614,-0.0904,0.9959,384.10,82.23)" font-size="11" text-anchor="start" >600</text>
<text transform="matrix(0.1106,-0.9939,0.9511,0.3090,391.30,307.50)" font-size="13.26" >Cumulative displacement at center of span(mm)</text>
<rect x="492.3" y="4.50" width="20.0" height="36.40" fill="#C0C0C0"/>
<rect x="492.3" y="40.60" width="20.0" height="36.40" fill="#640000"/>
<rect x="492.3" y="76.70" width="20.0" height="36.40" fill="#C80000"/>
<rect x="492.3" y="112.80" width="20.0" height="36.40" fill="#FF0000"/>
<rect x="492.3" y="148.90" width="20.0" height="36.40" fill="#FF5A00"/>
<rect x="492.3" y="185.00" width="20.0" height="36.40" fill="#FFFF00"/>
<rect x="492.3" y="221.10" width="20.0" height="36.40" fill="#64FF00"/>
<rect x="492.3" y="257.20" width="20.0" height="36.40" fill="#00DCFF"/>
<rect x="492.3" y="293.30" width="20.0" height="36.40" fill="#2800FF"/>
<rect x="492.3" y="329.40" width="20.0" height="36.40" fill="#780078"/>
<rect x="492.3" y="365.50" width="20.0" height="36.10" fill="#000000"/>
<rect x="492.3" y="4.5" width="20.0" height="397.1" fill="none" stroke="#333" stroke-width="0.8"/>
<line x1="512.3" y1="40.6" x2="518.3" y2="40.6" stroke="#333" stroke-width="0.8" />
<text x="521" y="43.6" font-size="9.2" letter-spacing="0.4" font-family="'Liberation Serif','Noto Serif CJK SC',serif" fill="#444">554.0</text>
<line x1="512.3" y1="76.7" x2="518.3" y2="76.7" stroke="#333" stroke-width="0.8" />
<text x="521" y="79.7" font-size="9.2" letter-spacing="0.4" font-family="'Liberation Serif','Noto Serif CJK SC',serif" fill="#444">544.0</text>
<line x1="512.3" y1="112.8" x2="518.3" y2="112.8" stroke="#333" stroke-width="0.8" />
<text x="521" y="115.8" font-size="9.2" letter-spacing="0.4" font-family="'Liberation Serif','Noto Serif CJK SC',serif" fill="#444">534.0</text>
<line x1="512.3" y1="148.9" x2="518.3" y2="148.9" stroke="#333" stroke-width="0.8" />
<text x="521" y="151.9" font-size="9.2" letter-spacing="0.4" font-family="'Liberation Serif','Noto Serif CJK SC',serif" fill="#444">524.0</text>
<line x1="512.3" y1="185.0" x2="518.3" y2="185.0" stroke="#333" stroke-width="0.8" />
<text x="521" y="188.0" font-size="9.2" letter-spacing="0.4" font-family="'Liberation Serif','Noto Serif CJK SC',serif" fill="#444">514.0</text>
<line x1="512.3" y1="221.1" x2="518.3" y2="221.1" stroke="#333" stroke-width="0.8" />
<text x="521" y="224.1" font-size="9.2" letter-spacing="0.4" font-family="'Liberation Serif','Noto Serif CJK SC',serif" fill="#444">504.0</text>
<line x1="512.3" y1="257.2" x2="518.3" y2="257.2" stroke="#333" stroke-width="0.8" />
<text x="521" y="260.2" font-size="9.2" letter-spacing="0.4" font-family="'Liberation Serif','Noto Serif CJK SC',serif" fill="#444">494.0</text>
<line x1="512.3" y1="293.3" x2="518.3" y2="293.3" stroke="#333" stroke-width="0.8" />
<text x="521" y="296.3" font-size="9.2" letter-spacing="0.4" font-family="'Liberation Serif','Noto Serif CJK SC',serif" fill="#444">484.0</text>
<line x1="512.3" y1="329.4" x2="518.3" y2="329.4" stroke="#333" stroke-width="0.8" />
<text x="521" y="332.4" font-size="9.2" letter-spacing="0.4" font-family="'Liberation Serif','Noto Serif CJK SC',serif" fill="#444">474.0</text>
<line x1="512.3" y1="365.5" x2="518.3" y2="365.5" stroke="#333" stroke-width="0.8" />
<text x="521" y="368.5" font-size="9.2" letter-spacing="0.4" font-family="'Liberation Serif','Noto Serif CJK SC',serif" fill="#444">464.0</text>
</svg></body></html>
